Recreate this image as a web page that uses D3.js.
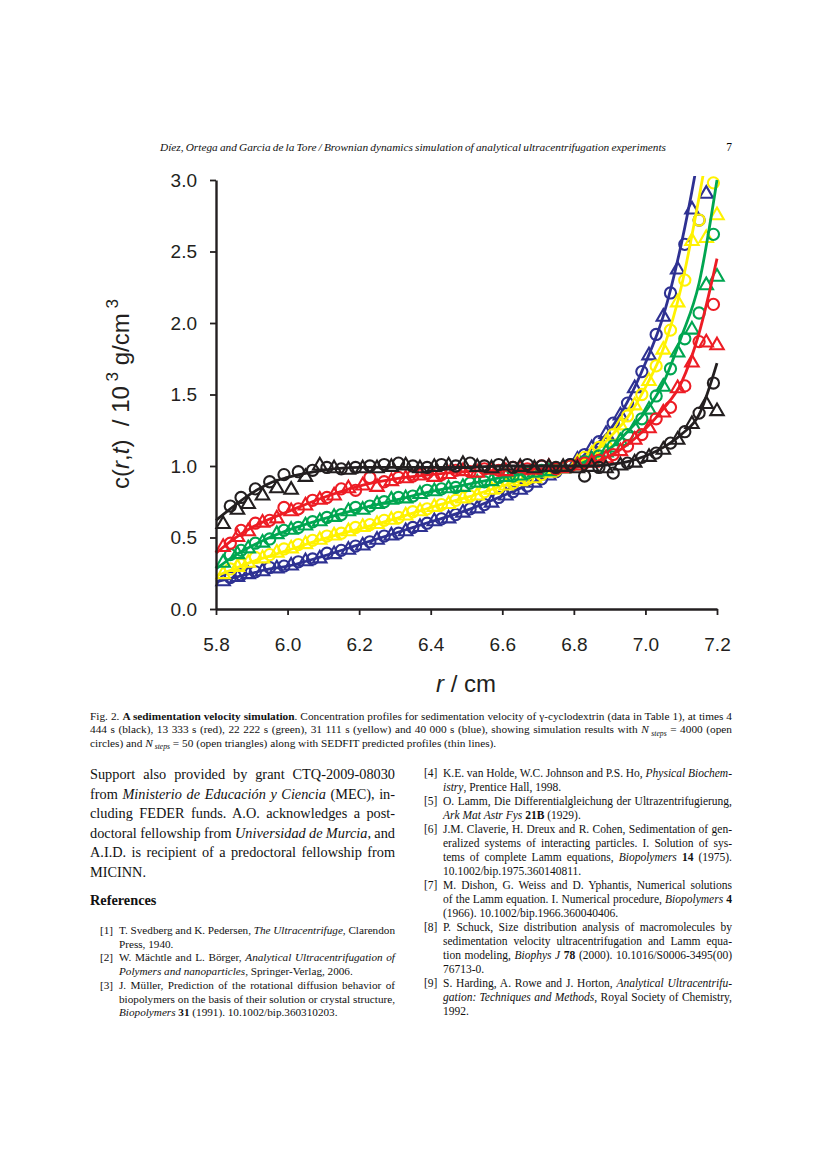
<!DOCTYPE html>
<html>
<head>
<meta charset="utf-8">
<script src="https://cdn.jsdelivr.net/npm/d3@7"></script>
<style>
  body { margin:0; background:#fff; }
  svg { display:block; }
</style>
</head>
<body>
<div id="page"></div>
<script>
// radial positions of the SEDFIT curve knots (cm)
var rLine = [5.8, 5.85, 5.9, 5.95, 6.0, 6.1, 6.2, 6.3, 6.4, 6.5, 6.6, 6.7, 6.8, 6.85, 6.9, 6.95, 7.0, 7.05, 7.1, 7.15, 7.2];
var lineBlack  = [0.62, 0.72, 0.81, 0.88, 0.92, 0.97, 0.99, 0.99, 0.99, 0.99, 1.0, 1.0, 1.0, 1.0, 1.01, 1.03, 1.07, 1.13, 1.22, 1.36, 1.72];
var lineRed    = [0.39, 0.49, 0.57, 0.63, 0.68, 0.78, 0.86, 0.91, 0.94, 0.96, 0.97, 0.98, 0.99, 1.02, 1.07, 1.15, 1.26, 1.40, 1.58, 1.93, 2.45];
var lineGreen  = [0.28, 0.37, 0.44, 0.50, 0.55, 0.63, 0.70, 0.76, 0.82, 0.87, 0.92, 0.96, 1.0, 1.05, 1.12, 1.24, 1.38, 1.58, 1.90, 2.28, 3.0];
var lineYellow = [0.23, 0.28, 0.33, 0.37, 0.41, 0.49, 0.56, 0.63, 0.71, 0.78, 0.86, 0.93, 1.01, 1.08, 1.20, 1.34, 1.55, 1.82, 2.25, 2.88, 3.6];
var lineBlue   = [0.19, 0.22, 0.25, 0.28, 0.30, 0.37, 0.45, 0.53, 0.61, 0.69, 0.79, 0.90, 1.02, 1.12, 1.25, 1.45, 1.72, 2.05, 2.55, 3.2, 4.0];

// N steps = 4000 (open circles)
var rCircle = [5.84, 5.87, 5.91, 5.95, 5.99, 6.03, 6.07, 6.11, 6.15, 6.19, 6.23, 6.27, 6.31, 6.35, 6.39, 6.43, 6.47, 6.51, 6.55, 6.59, 6.63, 6.67, 6.71, 6.75, 6.79, 6.83, 6.87, 6.91, 6.95, 6.99, 7.03, 7.07, 7.11, 7.15, 7.19];
var circBlack  = [0.72, 0.78, 0.84, 0.89, 0.94, 0.96, 0.97, 0.99, 0.98, 0.99, 1.0, 1.01, 1.02, 1.0, 0.99, 1.01, 1.0, 1.02, 1.0, 1.01, 0.99, 1.01, 1.0, 0.99, 1.01, 0.93, 0.99, 0.95, 1.02, 1.06, 1.09, 1.16, 1.24, 1.37, 1.58];
var circRed    = [0.46, 0.55, 0.60, 0.62, 0.71, 0.70, 0.76, 0.78, 0.84, 0.83, 0.92, 0.89, 0.92, 0.93, 0.95, 0.94, 0.97, 0.96, 0.98, 0.97, 0.99, 0.98, 1.0, 0.98, 1.0, 1.02, 1.04, 1.08, 1.14, 1.22, 1.33, 1.41, 1.56, 1.87, 2.13];
var circGreen  = [0.38, 0.41, 0.46, 0.49, 0.55, 0.57, 0.61, 0.64, 0.66, 0.71, 0.72, 0.75, 0.78, 0.79, 0.83, 0.84, 0.85, 0.88, 0.89, 0.92, 0.93, 0.95, 0.97, 0.98, 1.0, 1.03, 1.07, 1.14, 1.22, 1.33, 1.49, 1.68, 1.89, 2.07, 2.62];
var circYellow = [0.28, 0.31, 0.36, 0.38, 0.42, 0.45, 0.48, 0.51, 0.53, 0.57, 0.59, 0.62, 0.64, 0.68, 0.70, 0.73, 0.76, 0.79, 0.82, 0.85, 0.88, 0.91, 0.94, 0.97, 1.0, 1.06, 1.13, 1.22, 1.35, 1.50, 1.70, 1.95, 2.30, 2.72, 2.98];
var circBlue   = [0.22, 0.24, 0.26, 0.29, 0.30, 0.33, 0.35, 0.39, 0.41, 0.44, 0.47, 0.51, 0.53, 0.57, 0.60, 0.63, 0.66, 0.70, 0.73, 0.78, 0.82, 0.86, 0.91, 0.96, 1.01, 1.08, 1.17, 1.30, 1.44, 1.66, 1.92, 2.21, 2.55, 2.72, 3.4];

// N steps = 50 (open triangles)
var rTri = [5.82, 5.86, 5.89, 5.93, 5.97, 6.01, 6.05, 6.09, 6.13, 6.17, 6.21, 6.25, 6.29, 6.33, 6.37, 6.41, 6.45, 6.49, 6.53, 6.57, 6.61, 6.65, 6.69, 6.73, 6.77, 6.81, 6.85, 6.89, 6.93, 6.97, 7.01, 7.05, 7.09, 7.13, 7.17, 7.2];
var triBlack  = [0.60, 0.70, 0.74, 0.80, 0.85, 0.84, 0.93, 1.01, 0.99, 0.98, 0.99, 0.99, 1.0, 1.01, 0.99, 1.0, 1.01, 1.02, 1.0, 0.99, 1.01, 1.0, 0.99, 1.0, 1.0, 0.99, 1.0, 0.99, 1.01, 1.03, 1.07, 1.12, 1.19, 1.30, 1.44, 1.39];
var triRed    = [0.44, 0.51, 0.55, 0.61, 0.64, 0.69, 0.73, 0.77, 0.80, 0.85, 0.87, 0.86, 0.90, 0.92, 0.94, 0.93, 0.95, 0.97, 0.96, 0.98, 0.97, 0.99, 0.98, 1.0, 0.99, 1.01, 1.03, 1.06, 1.11, 1.19, 1.27, 1.38, 1.55, 1.73, 1.87, 1.85];
var triGreen  = [0.33, 0.39, 0.43, 0.47, 0.53, 0.56, 0.59, 0.62, 0.65, 0.69, 0.70, 0.74, 0.77, 0.78, 0.81, 0.83, 0.85, 0.86, 0.89, 0.90, 0.93, 0.94, 0.96, 0.97, 0.99, 1.01, 1.05, 1.10, 1.18, 1.27, 1.40, 1.56, 1.80, 1.96, 2.27, 2.33];
var triYellow = [0.25, 0.30, 0.33, 0.36, 0.40, 0.43, 0.46, 0.49, 0.52, 0.55, 0.58, 0.60, 0.63, 0.66, 0.69, 0.72, 0.74, 0.78, 0.80, 0.84, 0.87, 0.90, 0.92, 0.96, 0.99, 1.03, 1.09, 1.17, 1.29, 1.43, 1.60, 1.82, 2.15, 2.58, 2.60, 2.76];
var triBlue   = [0.20, 0.23, 0.25, 0.27, 0.29, 0.31, 0.34, 0.36, 0.39, 0.42, 0.45, 0.49, 0.52, 0.55, 0.58, 0.62, 0.64, 0.68, 0.71, 0.75, 0.80, 0.84, 0.89, 0.94, 0.99, 1.05, 1.13, 1.23, 1.36, 1.55, 1.78, 2.05, 2.38, 2.80, 2.91, 3.5];

var xTicks = [5.8, 6.0, 6.2, 6.4, 6.6, 6.8, 7.0, 7.2];
var yTicks = [0.0, 0.5, 1.0, 1.5, 2.0, 2.5, 3.0];

// drawn back to front
var series = [
  {color:"#2e3192", line:lineBlue,   circ:circBlue,   tri:triBlue},
  {color:"#fff200", line:lineYellow, circ:circYellow, tri:triYellow},
  {color:"#00a651", line:lineGreen,  circ:circGreen,  tri:triGreen},
  {color:"#ed1c24", line:lineRed,    circ:circRed,    tri:triRed},
  {color:"#231f20", line:lineBlack,  circ:circBlack,  tri:triBlack}
];

var W = 827, H = 1170;
var serif = "'Liberation Serif','Times New Roman',serif";
var sans = "'Liberation Sans',Arial,sans-serif";

var svg = d3.select("#page").append("svg").attr("width", W).attr("height", H);

var x = d3.scaleLinear().domain([5.8, 7.2]).range([216, 717]);
var y = d3.scaleLinear().domain([0, 3]).range([609, 180]);

svg.append("clipPath").attr("id", "plot").append("rect")
  .attr("x", 210).attr("y", 176).attr("width", 520).attr("height", 440);

var plot = svg.append("g").attr("clip-path", "url(#plot)");
var line = d3.line().x(function(d){return x(d[0]);}).y(function(d){return y(d[1]);}).curve(d3.curveMonotoneX);
var tri = d3.symbol().type(d3.symbolTriangle).size(78);

series.forEach(function(s){
  var g = plot.append("g");
  g.selectAll("circle").data(d3.zip(rCircle, s.circ)).enter().append("circle")
    .attr("cx", function(d){return x(d[0]);}).attr("cy", function(d){return y(d[1]);})
    .attr("r", 5.6).attr("fill", "none").attr("stroke", s.color).attr("stroke-width", 2.1);
  g.selectAll("path.tri").data(d3.zip(rTri, s.tri)).enter().append("path").attr("class", "tri")
    .attr("d", tri)
    .attr("transform", function(d){return "translate(" + x(d[0]) + "," + (y(d[1]) + 1) + ")";})
    .attr("fill", "none").attr("stroke", s.color).attr("stroke-width", 2.1);
  g.append("path").datum(d3.zip(rLine, s.line)).attr("d", line)
    .attr("fill", "none").attr("stroke", s.color).attr("stroke-width", 2.8);
});

// axes
var ax = svg.append("g").attr("transform", "translate(0,609)")
  .call(d3.axisBottom(x).tickValues(xTicks).tickFormat(d3.format(".1f")).tickSize(6).tickSizeOuter(0).tickPadding(23));
var ay = svg.append("g").attr("transform", "translate(216,0)")
  .call(d3.axisLeft(y).tickValues(yTicks).tickFormat(d3.format(".1f")).tickSize(6).tickSizeOuter(0).tickPadding(13));
[ax, ay].forEach(function(a){
  a.select(".domain").attr("stroke", "#231f20").attr("stroke-width", 2.4);
  a.selectAll(".tick line").attr("stroke", "#231f20").attr("stroke-width", 1.8);
  a.selectAll("text").attr("font-family", sans).attr("font-size", 19).attr("fill", "#231f20");
});

svg.append("text").attr("x", 466).attr("y", 692).attr("text-anchor", "middle")
  .attr("font-family", sans).attr("font-size", 24).attr("fill", "#231f20")
  .call(function(t){
    t.append("tspan").attr("font-style", "italic").text("r");
    t.append("tspan").text(" / cm");
  });

var yl = svg.append("text").attr("transform", "translate(129,394) rotate(-90)").attr("text-anchor", "middle")
  .attr("font-family", sans).attr("font-size", 24).attr("fill", "#231f20");
yl.append("tspan").text("c(");
yl.append("tspan").attr("font-style", "italic").text("r");
yl.append("tspan").text(",");
yl.append("tspan").attr("font-style", "italic").text("t");
yl.append("tspan").text(")\u00a0\u00a0/ 10");
yl.append("tspan").attr("dy", -11).attr("font-size", 17).text(" 3");
yl.append("tspan").attr("dy", 11).text(" g/cm");
yl.append("tspan").attr("dy", -11).attr("font-size", 17).text(" 3");

// page text; justified lines stretch the spaces, or tighten spaces and letters a little
function textLine(x0, y0, width, segs, size, justify) {
  var t = svg.append("text").attr("x", x0).attr("y", y0).attr("font-family", serif)
    .attr("font-size", size).attr("fill", "#111");
  var full = "", shift = 0;
  segs.forEach(function(s){
    var sp = t.append("tspan").text(s[0]);
    full += s[0];
    var st = s[1] || "";
    if (st.indexOf("i") >= 0) sp.attr("font-style", "italic");
    if (st.indexOf("b") >= 0) sp.attr("font-weight", "bold");
    if (st.indexOf("s") >= 0) { sp.attr("font-size", size * 0.68).attr("dy", 2.5); shift = 2.5; }
    else if (shift) { sp.attr("dy", -shift); shift = 0; }
  });
  if (justify) {
    var L = t.node().getComputedTextLength();
    var n = (full.match(/ /g) || []).length;
    var gap = width - L;
    if (gap >= 0 && n > 0) t.style("word-spacing", (gap / n) + "px");
    else if (n > 0) {
      var ws = Math.max(gap / n, -size * 0.08);
      var rest = gap - ws * n;
      t.style("word-spacing", ws + "px").style("letter-spacing", (rest / (full.length - 1)) + "px");
    }
  }
  return t;
}

textLine(160, 151, 506, [["Díez, Ortega and Garcia de la Tore / Brownian dynamics simulation of analytical ultracentrifugation experiments", "i"]], 11.3, true);
svg.append("text").attr("x", 732).attr("y", 151).attr("text-anchor", "end").attr("font-family", serif).attr("font-size", 11.5).text("7");

var cap = [
  [[["Fig. 2. "], ["A sedimentation velocity simulation", "b"], [". Concentration profiles for sedimentation velocity of γ-cyclodextrin (data in Table 1), at times 4"]], true],
  [[["444 s (black), 13 333 s (red), 22 222 s (green), 31 111 s (yellow) and 40 000 s (blue), showing simulation results with "], ["N", "i"], [" steps", "is"], [" = 4000 (open"]], true],
  [[["circles) and "], ["N", "i"], [" steps", "is"], [" = 50 (open triangles) along with SEDFIT predicted profiles (thin lines)."]], false]
];
cap.forEach(function(c, i){ textLine(90, 720 + i * 13.4, 642, c[0], 11.3, c[1]); });

var body = [
  [[["Support also provided by grant CTQ-2009-08030"]], true],
  [[["from "], ["Ministerio de Educación y Ciencia", "i"], [" (MEC), in-"]], true],
  [[["cluding FEDER funds. A.O. acknowledges a post-"]], true],
  [[["doctoral fellowship from "], ["Universidad de Murcia", "i"], [", and"]], true],
  [[["A.I.D. is recipient of a predoctoral fellowship from"]], true],
  [[["MICINN."]], false]
];
body.forEach(function(c, i){ textLine(90, 779 + i * 19.6, 305, c[0], 14.3, c[1]); });

textLine(90, 905, 0, [["References", "b"]], 14.3, false);

var refsLeft = [
  ["[1]", [[[["T. Svedberg and K. Pedersen, "], ["The Ultracentrifuge", "i"], [", Clarendon"]], true], [[["Press, 1940."]], false]]],
  ["[2]", [[[["W. Mächtle and L. Börger, "], ["Analytical Ultracentrifugation of", "i"]], true], [[["Polymers and nanoparticles", "i"], [", Springer-Verlag, 2006."]], false]]],
  ["[3]", [[[["J. Müller, Prediction of the rotational diffusion behavior of"]], true], [[["biopolymers on the basis of their solution or crystal structure,"]], true], [[["Biopolymers", "i"], [" "], ["31", "b"], [" (1991). 10.1002/bip.360310203."]], false]]]
];
var refsRight = [
  ["[4]", [[[["K.E. van Holde, W.C. Johnson and P.S. Ho, "], ["Physical Biochem-", "i"]], true], [[["istry", "i"], [", Prentice Hall, 1998."]], false]]],
  ["[5]", [[[["O. Lamm, Die Differentialgleichung der Ultrazentrifugierung,"]], true], [[["Ark Mat Astr Fys", "i"], [" "], ["21B", "b"], [" (1929)."]], false]]],
  ["[6]", [[[["J.M. Claverie, H. Dreux and R. Cohen, Sedimentation of gen-"]], true], [[["eralized systems of interacting particles. I. Solution of sys-"]], true], [[["tems of complete Lamm equations, "], ["Biopolymers", "i"], [" "], ["14", "b"], [" (1975)."]], true], [[["10.1002/bip.1975.360140811."]], false]]],
  ["[7]", [[[["M. Dishon, G. Weiss and D. Yphantis, Numerical solutions"]], true], [[["of the Lamm equation. I. Numerical procedure, "], ["Biopolymers", "i"], [" "], ["4", "b"]], true], [[["(1966). 10.1002/bip.1966.360040406."]], false]]],
  ["[8]", [[[["P. Schuck, Size distribution analysis of macromolecules by"]], true], [[["sedimentation velocity ultracentrifugation and Lamm equa-"]], true], [[["tion modeling, "], ["Biophys J", "i"], [" "], ["78", "b"], [" (2000). 10.1016/S0006-3495(00)"]], true], [[["76713-0."]], false]]],
  ["[9]", [[[["S. Harding, A. Rowe and J. Horton, "], ["Analytical Ultracentrifu-", "i"]], true], [[["gation: Techniques and Methods", "i"], [", Royal Society of Chemistry,"]], true], [[["1992."]], false]]]
];

function refColumn(refs, xNum, xText, right, y0, step, size) {
  var yy = y0;
  refs.forEach(function(r){
    textLine(xNum, yy, 0, [[r[0]]], size, false);
    r[1].forEach(function(l){
      textLine(xText, yy, right - xText, l[0], size, l[1]);
      yy += step;
    });
  });
}
refColumn(refsLeft, 100, 119, 395, 934, 13.7, 11.2);
refColumn(refsRight, 424, 443, 732, 777, 14.0, 11.5);
</script>
</body>
</html>
